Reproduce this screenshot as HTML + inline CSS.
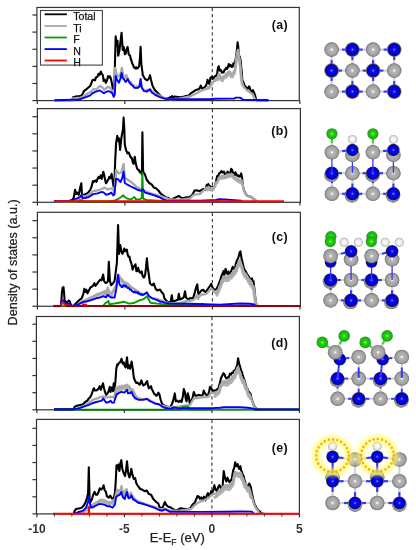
<!DOCTYPE html><html><head><meta charset="utf-8"><title>Density of states</title><style>html,body{margin:0;padding:0;background:#fff;}svg{display:block;}text{font-family:"Liberation Sans",Arial,sans-serif;}</style></head><body>
<svg width="416" height="550" viewBox="0 0 416 550">
<defs>
<radialGradient id="gTi" cx="0.5" cy="0.5" r="0.5"><stop offset="0" stop-color="#ffffff"/><stop offset="0.1" stop-color="#eeeeee"/><stop offset="0.22" stop-color="#b8b8b8"/><stop offset="0.75" stop-color="#a2a2a2"/><stop offset="0.9" stop-color="#8a8a8a"/><stop offset="1" stop-color="#5c5c5c"/></radialGradient>
<radialGradient id="gN" cx="0.5" cy="0.5" r="0.5"><stop offset="0" stop-color="#b0b0ff"/><stop offset="0.1" stop-color="#5050ff"/><stop offset="0.25" stop-color="#0c0ce8"/><stop offset="0.8" stop-color="#0000cc"/><stop offset="0.91" stop-color="#18186e"/><stop offset="1" stop-color="#5a5a40"/></radialGradient>
<radialGradient id="gF" cx="0.5" cy="0.5" r="0.5"><stop offset="0" stop-color="#f0ff80"/><stop offset="0.15" stop-color="#60e020"/><stop offset="0.35" stop-color="#20d010"/><stop offset="0.8" stop-color="#10b810"/><stop offset="1" stop-color="#408030"/></radialGradient>
<radialGradient id="gH" cx="0.5" cy="0.5" r="0.5"><stop offset="0" stop-color="#ffffff"/><stop offset="0.5" stop-color="#f0f0f0"/><stop offset="0.85" stop-color="#d0d0d0"/><stop offset="1" stop-color="#9a9a9a"/></radialGradient>
<filter id="blur2" x="-50%" y="-50%" width="200%" height="200%"><feGaussianBlur stdDeviation="2.2"/></filter><filter id="blur1" x="-50%" y="-50%" width="200%" height="200%"><feGaussianBlur stdDeviation="1.4"/></filter>
</defs>
<rect x="0" y="0" width="416" height="550" fill="#fff"/>
<rect x="36.9" y="7.45" width="262.4" height="93.15" fill="none" stroke="#333333" stroke-width="1.2"/>
<line x1="212.3" y1="7.95" x2="212.3" y2="100.6" stroke="#333" stroke-width="1.1" stroke-dasharray="3.2,2.9"/>
<polyline points="54.0,100.2 72.5,100.2 73.0,97.2 75.8,96.6 79.4,96.1 81.6,95.5 83.0,93.3 83.8,91.1 85.9,89.7 88.1,87.8 90.2,86.0 91.4,83.2 92.4,80.3 93.8,79.6 95.0,80.3 96.0,77.4 97.5,76.7 98.5,73.8 99.6,74.8 100.8,71.6 101.8,73.8 102.8,75.2 103.7,81.0 104.7,79.6 105.8,82.9 107.1,80.3 108.0,76.0 109.0,77.4 110.0,76.3 110.9,78.8 111.9,83.2 112.9,89.7 113.8,93.3 114.3,87.5 114.8,69.3 115.7,36.4 116.7,45.4 117.5,40.9 118.2,55.8 119.3,51.3 120.4,42.4 121.6,32.7 122.7,49.9 123.7,46.9 124.9,54.3 125.7,53.3 126.4,49.9 127.6,46.9 128.7,54.3 130.1,55.8 130.8,59.0 131.6,61.0 132.3,63.7 133.1,64.8 133.8,67.3 134.6,67.8 135.4,68.6 136.1,67.1 136.9,68.5 138.0,68.0 139.1,66.3 139.9,58.8 140.6,46.9 141.3,63.3 142.8,75.2 145.1,79.0 147.3,80.4 149.1,78.2 150.0,75.2 151.0,79.7 152.5,85.7 154.8,90.1 157.8,93.1 160.7,96.1 163.7,97.9 166.7,98.6 168.0,98.4 170.2,97.3 172.2,96.1 173.2,97.9 174.7,96.4 176.9,96.9 179.9,97.3 182.9,96.9 185.9,96.1 188.9,95.4 191.1,93.1 193.4,91.6 195.6,90.1 197.8,89.4 199.3,88.7 200.8,85.7 202.0,88.7 203.8,87.9 206.0,85.7 206.8,83.5 207.5,79.7 208.6,82.7 209.5,84.2 210.5,77.5 211.2,78.3 212.0,76.7 212.8,79.0 213.6,79.2 214.3,76.7 215.7,76.0 216.4,75.4 217.2,73.0 218.0,67.8 218.7,66.3 219.8,70.7 221.0,70.0 221.8,72.6 222.5,72.2 223.5,72.5 224.5,70.0 225.2,69.7 226.0,67.8 226.8,68.9 227.5,68.5 228.7,64.0 229.7,66.3 230.7,64.8 231.9,67.0 232.7,66.5 233.4,63.3 234.6,64.8 235.7,58.8 236.7,52.1 237.6,42.4 238.2,46.1 238.7,55.1 239.7,56.6 240.6,60.3 241.6,70.7 242.4,80.4 243.6,82.7 244.6,85.7 246.1,87.2 247.6,89.0 249.1,86.4 250.0,88.5 251.3,93.1 252.8,90.1 254.0,92.4 255.1,95.4 255.8,98.4 256.6,100.2 268.0,100.2" fill="none" stroke="#000000" stroke-width="2.1" stroke-linejoin="round"/>
<polyline points="217.2,81.2 217.9,79.4 218.7,75.9 219.4,78.4 220.2,76.9 220.9,80.0 221.7,80.4 222.6,81.0 223.6,77.8 224.5,78.2 225.2,78.0 226.0,75.3 226.8,76.7 227.5,74.4 228.2,75.4 229.0,73.7 229.8,75.5 230.5,74.5 231.2,77.1 232.0,76.7 232.8,77.0 233.7,73.7 234.5,73.7 235.7,67.0 236.7,58.0 237.9,52.1 238.7,57.6 239.4,60.7 240.4,68.7 241.2,78.7 242.3,85.7" fill="none" stroke="#b2b2b2" stroke-width="2.6" stroke-linejoin="round"/>
<polyline points="54.0,100.2 72.5,100.2 72.9,98.3 80.9,97.6 83.8,96.2 88.1,93.3 91.0,91.8 93.8,88.9 96.0,89.7 98.2,87.5 100.3,86.0 102.5,87.5 103.9,89.7 106.1,88.2 108.3,86.8 110.4,88.2 112.6,91.1 114.0,93.3 114.5,88.7 115.2,67.8 116.0,71.6 116.7,73.7 117.5,76.0 118.2,76.7 119.3,75.7 120.4,73.7 121.2,71.8 121.9,67.8 122.7,72.5 123.4,75.2 124.2,77.7 124.9,78.2 125.7,77.5 126.4,75.2 127.2,77.7 127.9,78.2 128.7,80.8 129.4,81.2 130.2,82.9 130.9,82.0 131.7,84.6 132.4,84.2 133.2,85.7 133.9,85.2 134.7,87.1 135.4,87.2 136.2,88.0 136.9,86.1 137.7,87.9 138.4,87.2 139.5,84.4 140.6,79.7 142.1,87.9 145.0,90.5 150.0,89.0 152.0,91.5 155.0,93.5 160.0,96.0 165.0,98.5 170.0,99.3 180.0,98.5 190.0,96.5 194.9,93.9 200.8,90.9 206.8,88.7 207.6,88.9 208.3,87.0 209.1,88.3 209.8,86.4 210.6,86.2 211.3,83.3 212.1,84.1 212.8,81.9 213.7,81.9 214.6,79.5 215.4,80.9 216.3,78.3 217.2,79.0 217.9,77.0 218.7,73.7 219.4,75.7 220.2,75.2 220.9,78.1 221.7,78.2 222.6,78.0 223.6,76.2 224.5,76.0 225.2,76.0 226.0,73.9 226.8,74.9 227.5,72.4 228.2,73.0 229.0,71.5 229.8,73.2 230.5,72.4 231.2,75.0 232.0,74.5 232.8,74.2 233.7,71.5 234.5,71.5 235.7,64.8 236.7,55.8 237.9,49.9 238.7,54.9 239.4,58.5 240.4,66.5 241.2,76.5 242.3,83.5 243.9,87.2 246.9,90.2 249.9,92.2 252.8,94.6 254.6,98.5 255.8,100.2" fill="none" stroke="#a8a8a8" stroke-width="2.3" stroke-linejoin="round"/>
<polyline points="54.4,100.2 72.2,99.8 79.0,99.5 82.3,98.3 86.6,96.9 90.2,95.4 92.4,93.3 95.3,91.8 97.5,91.1 99.6,90.4 101.8,91.8 103.9,93.3 106.1,91.8 108.3,91.1 110.0,91.6 112.2,93.1 113.7,96.9 114.8,94.6 115.7,76.0 116.7,79.0 117.8,81.2 119.0,82.7 120.1,79.7 121.6,73.0 122.7,78.2 124.2,79.7 125.7,81.9 127.6,79.0 128.7,81.2 130.1,83.4 132.4,85.7 134.6,87.9 137.6,87.9 139.6,86.4 140.6,79.0 141.6,87.2 143.6,90.9 146.6,91.6 149.1,90.1 150.0,89.4 151.8,92.4 154.8,94.6 159.3,96.9 163.7,98.4 167.0,99.2 175.0,99.3 210.0,99.2 215.0,98.8 234.0,98.6 236.0,97.6 240.0,97.6 243.0,99.6 250.0,100.0 268.6,100.2" fill="none" stroke="#0000ff" stroke-width="1.9" stroke-linejoin="round"/>
<line x1="32.4" y1="100.60" x2="36.9" y2="100.60" stroke="#333333" stroke-width="1.2"/>
<line x1="32.4" y1="83.48" x2="36.9" y2="83.48" stroke="#333333" stroke-width="1.2"/>
<line x1="32.4" y1="66.36" x2="36.9" y2="66.36" stroke="#333333" stroke-width="1.2"/>
<line x1="32.4" y1="49.24" x2="36.9" y2="49.24" stroke="#333333" stroke-width="1.2"/>
<line x1="32.4" y1="32.12" x2="36.9" y2="32.12" stroke="#333333" stroke-width="1.2"/>
<line x1="32.4" y1="15.00" x2="36.9" y2="15.00" stroke="#333333" stroke-width="1.2"/>
<line x1="37.3" y1="100.6" x2="37.3" y2="103.9" stroke="#333333" stroke-width="1.2"/>
<line x1="124.8" y1="100.6" x2="124.8" y2="103.9" stroke="#333333" stroke-width="1.2"/>
<line x1="212.3" y1="100.6" x2="212.3" y2="103.9" stroke="#333333" stroke-width="1.2"/>
<line x1="299.8" y1="100.6" x2="299.8" y2="103.9" stroke="#333333" stroke-width="1.2"/>
<text x="279.8" y="28.8" font-size="12.4" letter-spacing="0.35" font-weight="bold" text-anchor="middle" fill="#111">(a)</text>
<rect x="37.4" y="108.6" width="263.0" height="93.70" fill="none" stroke="#333333" stroke-width="1.2"/>
<line x1="212.4" y1="109.1" x2="212.4" y2="202.3" stroke="#333" stroke-width="1.1" stroke-dasharray="3.2,2.9"/>
<polyline points="54.0,201.5 69.5,201.5 70.1,200.6 72.3,199.9 73.7,197.7 75.1,189.8 76.2,194.1 77.3,192.6 78.8,194.8 80.2,187.6 81.3,183.3 81.9,193.4 82.8,197.0 83.8,194.8 86.0,194.1 88.1,192.6 90.3,189.8 91.7,186.2 92.9,181.1 93.9,181.8 95.3,180.4 96.4,181.8 97.5,178.9 98.7,176.8 99.7,178.2 100.7,175.3 101.8,178.9 103.3,171.7 104.4,176.1 105.9,183.3 106.9,181.8 108.3,179.7 109.3,176.8 110.5,178.2 111.6,173.9 112.6,180.4 113.6,186.5 114.4,184.0 115.2,160.3 116.1,142.9 117.3,135.9 118.4,141.1 119.1,138.5 120.1,149.9 121.3,138.5 122.2,133.3 123.0,129.0 123.6,117.6 124.3,128.9 124.8,144.6 126.0,149.9 127.4,153.4 128.8,152.5 130.1,156.0 130.9,157.9 131.8,157.7 132.7,162.0 133.5,163.8 134.8,156.8 135.8,163.8 137.0,168.2 137.9,169.8 138.8,169.9 139.7,172.1 140.5,171.7 141.9,174.3 142.4,132.4 143.1,171.7 144.9,174.3 146.6,179.5 149.2,183.0 151.9,184.7 153.6,187.4 155.5,188.0 158.0,190.0 160.6,193.5 164.1,196.1 166.4,197.5 168.0,197.7 170.8,199.9 173.0,198.8 175.8,197.4 178.7,196.0 181.0,197.7 183.8,198.0 186.6,197.4 189.5,197.0 191.7,195.5 193.1,193.4 194.6,190.5 196.7,190.2 199.6,191.2 201.8,189.8 203.9,189.0 205.4,189.8 206.8,184.7 207.6,186.2 208.3,184.0 209.4,187.0 210.4,186.2 211.5,188.1 212.6,186.9 213.7,187.6 214.8,185.9 216.2,180.4 217.2,176.1 218.1,176.4 219.1,173.2 220.2,173.0 221.3,171.0 222.7,172.4 223.8,171.5 224.7,174.0 225.5,173.5 226.6,173.5 227.7,171.5 228.6,174.0 229.5,173.0 230.3,173.3 231.1,168.9 231.9,169.5 232.9,172.4 233.8,173.4 234.6,175.4 235.5,172.2 236.3,174.3 237.3,175.8 238.3,175.3 239.2,176.7 240.2,176.3 241.2,173.4 242.1,178.2 242.7,184.9 243.5,188.8 245.0,192.6 246.9,195.5 248.8,196.2 250.8,196.8 252.7,198.4 254.6,199.5 256.5,201.3 258.0,201.5" fill="none" stroke="#000000" stroke-width="2.1" stroke-linejoin="round"/>
<polyline points="206.8,188.9 207.6,190.5 208.5,188.6 209.3,190.1 210.1,188.3 210.9,190.6 211.8,189.4 212.6,190.3 213.5,190.0 214.3,186.6 215.2,187.3 216.0,183.8 216.9,183.1 217.9,182.8 218.8,178.9 219.8,178.1 220.7,179.1 221.5,176.6 222.4,179.0 223.3,176.4 224.1,178.8 225.0,177.6 225.8,178.0 226.6,175.8 227.4,177.9 228.2,175.8 229.1,177.1 229.9,174.8 230.7,176.9 231.5,175.6 232.4,177.7 233.2,176.0 234.1,179.4 235.0,178.8 235.8,180.6 236.7,179.1 237.5,182.0 238.4,180.9 239.2,182.4 240.0,183.4 240.7,180.8 241.5,181.3 242.7,186.2 243.5,190.1" fill="none" stroke="#b2b2b2" stroke-width="1.8" stroke-linejoin="round"/>
<polyline points="54.0,201.5 76.0,201.3 77.3,197.7 81.6,195.5 84.5,196.8 88.8,194.8 93.2,191.2 97.5,190.5 101.8,189.0 104.7,187.6 107.5,189.5 111.2,188.3 113.4,189.8 114.4,193.5 115.5,178.9 116.1,169.9 118.7,173.4 121.3,172.5 123.6,163.8 124.8,177.8 127.4,179.5 131.0,182.0 134.4,184.7 136.0,186.5 140.0,189.0 150.0,193.0 160.0,196.0 165.0,197.5 170.0,199.5 180.0,199.8 190.0,198.5 193.8,194.8 200.0,193.8 206.8,187.6 207.6,188.4 208.5,186.8 209.3,189.4 210.1,187.9 210.9,189.7 211.8,187.8 212.6,189.0 213.5,188.5 214.3,185.6 215.2,185.8 216.0,182.5 216.9,181.8 217.9,181.2 218.8,177.6 219.8,176.8 220.7,177.7 221.5,175.6 222.4,177.3 223.3,175.5 224.1,177.6 225.0,176.3 225.8,177.2 226.6,174.7 227.4,176.1 228.2,174.4 229.1,176.1 229.9,174.1 230.7,175.1 231.5,174.3 232.4,176.1 233.2,175.0 234.1,177.9 235.0,177.5 235.8,178.9 236.7,178.4 237.5,180.6 238.4,179.3 239.2,181.1 240.0,181.7 240.7,179.8 241.5,180.0 242.7,184.9 243.5,188.8 245.0,192.6 246.9,195.5 248.8,196.2 250.8,196.8 252.7,198.4 254.6,199.5 256.5,201.3 258.0,201.5" fill="none" stroke="#a8a8a8" stroke-width="2.3" stroke-linejoin="round"/>
<polyline points="54.0,201.6 110.0,201.3 115.2,200.4 118.7,198.7 121.3,197.0 123.1,195.2 124.8,197.0 127.4,198.7 130.9,199.6 134.4,197.0 135.8,199.1 139.6,199.6 141.7,198.0 142.4,172.5 143.1,198.7 146.6,200.0 153.6,200.5 169.0,201.3" fill="none" stroke="#00a000" stroke-width="1.9" stroke-linejoin="round"/>
<polyline points="54.0,201.3 72.0,201.0 74.4,199.1 78.0,198.4 80.2,197.0 81.6,194.8 82.5,198.4 85.0,198.0 88.8,197.0 93.2,194.1 97.5,193.4 101.8,191.9 103.8,192.6 106.2,194.8 109.0,194.0 111.2,192.6 113.4,195.5 114.4,194.3 116.1,178.6 118.4,179.5 120.5,182.1 122.2,177.8 123.6,171.7 124.8,183.0 127.4,184.7 130.9,186.5 134.4,188.2 137.9,190.0 141.4,190.9 143.0,189.3 144.9,192.6 148.4,193.5 153.6,195.2 158.8,197.0 164.1,199.6 167.6,200.8 175.0,200.6 200.0,200.6 216.0,200.0 219.0,199.3 225.0,199.5 241.0,200.6 242.0,201.3" fill="none" stroke="#0000ff" stroke-width="1.9" stroke-linejoin="round"/>
<polyline points="53.8,201.3 78.5,201.3 79.5,200.2 82.0,200.2 83.2,201.3 284.0,201.3" fill="none" stroke="#ff0000" stroke-width="1.9" stroke-linejoin="round"/>
<line x1="32.4" y1="202.30" x2="37.4" y2="202.30" stroke="#333333" stroke-width="1.2"/>
<line x1="32.4" y1="185.18" x2="37.4" y2="185.18" stroke="#333333" stroke-width="1.2"/>
<line x1="32.4" y1="168.06" x2="37.4" y2="168.06" stroke="#333333" stroke-width="1.2"/>
<line x1="32.4" y1="150.94" x2="37.4" y2="150.94" stroke="#333333" stroke-width="1.2"/>
<line x1="32.4" y1="133.82" x2="37.4" y2="133.82" stroke="#333333" stroke-width="1.2"/>
<line x1="32.4" y1="116.70" x2="37.4" y2="116.70" stroke="#333333" stroke-width="1.2"/>
<line x1="37.4" y1="202.3" x2="37.4" y2="205.6" stroke="#333333" stroke-width="1.2"/>
<line x1="124.9" y1="202.3" x2="124.9" y2="205.6" stroke="#333333" stroke-width="1.2"/>
<line x1="212.4" y1="202.3" x2="212.4" y2="205.6" stroke="#333333" stroke-width="1.2"/>
<line x1="299.9" y1="202.3" x2="299.9" y2="205.6" stroke="#333333" stroke-width="1.2"/>
<text x="279.8" y="134.8" font-size="12.4" letter-spacing="0.35" font-weight="bold" text-anchor="middle" fill="#111">(b)</text>
<rect x="37.4" y="212.3" width="263.0" height="93.95" fill="none" stroke="#333333" stroke-width="1.2"/>
<line x1="212.4" y1="212.8" x2="212.4" y2="306.25" stroke="#333" stroke-width="1.1" stroke-dasharray="3.2,2.9"/>
<polyline points="53.5,306.0 61.0,306.0 61.5,300.0 61.8,293.3 62.7,287.5 63.5,287.2 64.0,292.0 64.6,300.5 65.9,301.9 67.5,302.0 68.8,300.5 69.8,301.5 70.9,305.5 73.0,305.8 75.2,304.1 77.4,301.9 79.6,299.8 81.7,298.3 83.5,293.3 84.3,288.9 85.3,291.8 86.3,289.7 87.5,293.3 88.9,290.4 90.4,287.5 91.8,286.8 93.3,285.3 94.4,283.2 95.4,286.0 96.4,284.6 97.6,283.2 99.0,281.0 100.5,279.6 101.6,280.3 103.1,274.5 104.1,281.0 105.5,283.0 107.0,282.5 108.0,281.0 108.8,261.7 109.9,280.9 111.1,285.3 112.9,283.5 114.6,280.9 115.8,271.3 116.9,262.6 118.1,225.1 119.0,253.9 120.3,245.1 121.6,252.1 122.5,253.9 123.3,252.3 124.2,248.6 125.6,251.2 126.8,249.5 127.7,254.7 128.6,256.7 129.4,256.5 130.3,260.8 131.2,262.6 132.6,269.6 133.8,266.1 134.7,266.0 135.5,264.3 136.4,271.3 137.2,271.0 138.1,267.8 139.5,272.2 140.6,272.9 141.6,271.3 142.5,275.4 143.4,277.4 144.2,277.4 145.1,274.8 146.0,267.7 146.9,258.2 147.7,267.8 148.6,273.0 150.0,283.5 152.1,285.3 153.8,283.5 155.6,288.7 157.3,290.5 160.0,289.6 161.7,292.2 163.4,294.0 164.3,298.1 166.5,301.0 168.7,302.4 170.8,301.7 171.8,295.2 172.7,301.7 174.4,301.0 176.6,300.3 178.0,299.5 178.8,293.8 179.9,299.5 181.6,298.8 183.8,297.4 185.0,291.2 186.0,297.4 187.4,298.8 188.8,299.3 190.3,297.9 191.7,298.4 193.2,297.9 194.6,293.1 195.6,289.2 196.5,286.3 197.3,284.4 198.0,292.1 198.5,294.0 199.4,293.1 200.4,291.6 201.8,290.2 203.3,289.7 204.2,291.2 205.7,292.1 207.1,290.2 208.6,287.8 209.5,286.8 210.5,284.9 211.2,283.9 211.9,285.9 212.9,288.3 213.8,289.2 215.3,289.7 216.7,288.8 218.2,285.4 219.6,282.0 220.8,278.2 221.5,275.8 222.5,273.8 223.5,271.0 224.2,275.5 225.6,268.7 226.9,273.5 227.7,274.0 228.5,271.6 229.2,274.2 230.0,274.5 231.3,270.7 232.7,266.8 233.4,268.4 234.2,268.7 235.0,267.6 235.8,263.9 237.1,260.1 238.5,257.2 239.6,252.4 240.4,251.4 241.5,258.2 242.9,263.9 243.8,267.8 244.6,270.3 245.4,270.7 246.7,273.5 248.1,275.5 249.2,277.4 250.6,279.3 251.9,278.3 252.7,281.0 253.5,281.2 254.4,288.9 255.4,298.5 256.3,304.3 257.3,306.0 260.0,306.0" fill="none" stroke="#000000" stroke-width="2.1" stroke-linejoin="round"/>
<polyline points="215.8,295.7 216.8,295.2 217.7,293.3 218.6,291.6 219.6,288.5 220.6,286.9 221.5,283.2 222.5,282.0 223.5,279.3 224.2,280.2 225.0,278.8 225.8,280.8 226.5,280.1 227.3,280.4 228.1,278.4 228.8,280.2 229.6,277.8 230.4,278.1 231.2,278.0 231.9,276.0 232.7,276.5 233.4,274.3 234.2,274.2 235.0,274.0 235.8,270.3 236.5,271.0 237.3,267.4 238.1,266.5 239.1,265.9 240.0,262.7 240.9,266.5 241.9,268.4 242.9,272.4 243.8,274.2 244.6,276.5 245.4,275.7 246.1,278.4 246.9,277.7 247.7,280.0 248.5,281.8 249.2,281.7 250.0,284.7 250.7,283.5 251.5,285.8 252.5,288.0 253.5,288.6 254.4,295.4 255.8,305.0" fill="none" stroke="#b2b2b2" stroke-width="3.0" stroke-linejoin="round"/>
<polyline points="81.7,303.3 82.5,304.3 83.4,301.8 84.2,302.6 85.0,300.2 85.8,301.9 86.7,300.2 87.5,300.4 88.3,301.1 89.2,298.7 90.0,300.5 90.8,298.0 91.6,299.8 92.5,297.2 93.3,297.6 94.2,298.2 95.0,295.4 95.9,297.4 96.7,294.5 97.6,295.4 98.5,296.3 99.3,294.2 100.2,295.8 101.0,293.1 101.9,293.9 102.9,294.3 103.8,292.2 104.8,292.5 105.6,295.4 106.7,293.4 107.7,288.9 108.5,291.4 109.3,293.9 110.2,293.1 111.0,295.9 111.9,295.5 112.8,291.3 113.6,292.1 114.5,289.4" fill="none" stroke="#b2b2b2" stroke-width="2.2" stroke-linejoin="round"/>
<polyline points="116.3,287.0 117.2,282.9 118.1,276.8 119.0,279.2 119.8,277.8 120.7,280.3 121.6,282.0 122.5,280.8 123.3,284.1 124.2,283.8 125.1,285.3 126.0,284.0 126.8,285.7 127.7,285.5 128.6,287.3 129.4,286.1 130.3,288.9 131.2,289.0" fill="none" stroke="#b2b2b2" stroke-width="2.4" stroke-linejoin="round"/>
<polyline points="53.5,306.0 74.0,306.0 78.0,304.5 81.7,301.9 87.5,299.0 93.3,296.2 97.6,294.0 101.9,292.5 104.8,291.1 105.6,294.0 107.7,287.5 108.5,290.0 111.0,294.5 114.5,288.0 116.3,285.0 118.1,274.8 120.7,278.3 124.2,281.8 127.7,283.5 131.2,287.0 136.4,290.5 141.6,294.0 146.9,294.0 150.4,297.5 157.3,299.2 165.0,302.0 172.0,303.5 180.0,303.0 186.9,300.8 190.0,300.8 193.7,299.8 195.6,297.9 197.0,295.0 198.0,298.8 199.4,296.4 201.8,294.5 204.2,294.5 206.2,294.0 208.6,291.2 210.5,289.2 211.9,288.8 213.8,291.6 215.8,293.1 217.7,290.7 218.6,289.4 219.6,285.9 220.6,284.5 221.5,280.6 222.5,279.8 223.5,276.7 224.2,278.1 225.0,276.5 225.8,278.3 226.5,277.5 227.3,278.0 228.1,276.0 228.8,277.5 229.6,275.1 230.4,275.5 231.2,276.0 231.9,273.1 232.7,274.1 233.4,271.3 234.2,271.6 235.0,271.2 235.8,268.0 236.5,268.1 237.3,264.8 238.1,263.9 239.1,262.8 240.0,260.1 240.9,263.5 241.9,265.8 242.9,269.7 243.8,271.6 244.6,273.4 245.4,273.3 246.1,276.0 246.9,275.4 247.7,277.4 248.5,279.5 249.2,278.8 250.0,281.9 250.7,280.8 251.5,283.2 252.5,285.9 253.5,286.0 254.4,292.8 255.8,302.4 257.3,306.0 260.0,306.0" fill="none" stroke="#a8a8a8" stroke-width="2.3" stroke-linejoin="round"/>
<polyline points="53.5,306.1 103.0,306.0 105.0,303.6 108.5,301.0 109.2,304.5 113.7,303.6 119.0,302.7 124.2,301.8 129.4,303.6 134.6,302.7 139.9,300.1 143.4,299.3 146.9,296.6 148.6,299.3 150.4,302.7 157.3,303.6 165.0,304.4 175.0,304.7 183.0,304.0 185.0,303.5 190.0,304.5 200.0,304.2 203.0,304.0 205.0,305.5 210.0,306.0" fill="none" stroke="#00a000" stroke-width="1.9" stroke-linejoin="round"/>
<polyline points="53.5,306.0 60.8,306.0 61.3,301.5 63.5,300.4 64.6,303.5 68.0,304.0 69.5,303.8 69.9,303.0 70.5,304.0 71.5,306.0 74.0,306.0 75.2,305.2 78.8,304.1 83.2,301.9 87.5,301.2 91.8,299.8 96.2,298.3 99.8,297.6 103.4,296.2 106.0,297.5 107.7,294.7 109.0,296.0 111.0,297.5 114.6,297.5 116.3,288.7 118.1,274.8 119.3,283.5 120.1,285.5 120.8,285.2 121.6,287.0 122.5,287.0 123.3,285.3 124.2,285.3 125.1,286.6 125.9,285.6 126.8,287.0 127.7,288.1 128.5,287.7 129.4,288.7 130.3,289.9 131.2,289.7 132.0,291.4 132.9,291.4 133.8,292.4 134.7,291.4 135.5,292.7 136.4,292.2 137.3,293.1 138.2,292.3 139.0,294.1 139.9,294.0 140.8,294.7 141.7,294.1 142.5,295.0 143.4,294.8 146.9,292.2 148.6,295.7 152.1,298.3 157.3,300.1 160.0,301.7 162.6,301.8 165.0,302.9 170.0,303.5 190.0,303.8 220.0,304.6 240.0,303.5 250.0,303.8 254.4,304.5 255.5,306.0" fill="none" stroke="#0000ff" stroke-width="1.9" stroke-linejoin="round"/>
<polyline points="53.5,306.1 61.2,306.1 61.6,303.2 63.1,302.1 64.0,303.6 64.6,304.3 65.0,305.2 69.0,305.2 70.0,305.9 82.5,305.9 83.5,304.6 86.0,304.6 87.0,305.9 300.0,306.1" fill="none" stroke="#ff0000" stroke-width="1.9" stroke-linejoin="round"/>
<line x1="53.5" y1="306.10" x2="60.8" y2="306.10" stroke="#8a0000" stroke-width="1.9"/>
<line x1="65.6" y1="306.10" x2="300.4" y2="306.10" stroke="#8a0000" stroke-width="1.9"/>
<line x1="32.4" y1="306.25" x2="37.4" y2="306.25" stroke="#333333" stroke-width="1.2"/>
<line x1="32.4" y1="289.13" x2="37.4" y2="289.13" stroke="#333333" stroke-width="1.2"/>
<line x1="32.4" y1="272.01" x2="37.4" y2="272.01" stroke="#333333" stroke-width="1.2"/>
<line x1="32.4" y1="254.89" x2="37.4" y2="254.89" stroke="#333333" stroke-width="1.2"/>
<line x1="32.4" y1="237.77" x2="37.4" y2="237.77" stroke="#333333" stroke-width="1.2"/>
<line x1="32.4" y1="220.65" x2="37.4" y2="220.65" stroke="#333333" stroke-width="1.2"/>
<line x1="37.4" y1="306.25" x2="37.4" y2="309.6" stroke="#333333" stroke-width="1.2"/>
<line x1="124.9" y1="306.25" x2="124.9" y2="309.6" stroke="#333333" stroke-width="1.2"/>
<line x1="212.4" y1="306.25" x2="212.4" y2="309.6" stroke="#333333" stroke-width="1.2"/>
<line x1="299.9" y1="306.25" x2="299.9" y2="309.6" stroke="#333333" stroke-width="1.2"/>
<text x="279.8" y="240.6" font-size="12.4" letter-spacing="0.35" font-weight="bold" text-anchor="middle" fill="#111">(c)</text>
<rect x="36.4" y="316.5" width="263.0" height="93.30" fill="none" stroke="#333333" stroke-width="1.2"/>
<line x1="211.9" y1="317.0" x2="211.9" y2="409.8" stroke="#333" stroke-width="1.1" stroke-dasharray="3.2,2.9"/>
<polyline points="54.0,409.3 74.0,409.3 74.4,407.1 75.9,406.1 80.2,404.9 83.1,404.2 85.2,402.0 87.4,400.6 88.8,398.4 90.3,397.0 91.7,394.1 92.9,390.5 93.9,388.3 94.9,390.5 96.1,390.5 97.5,389.8 98.7,388.3 99.7,386.2 100.7,389.8 101.8,386.9 103.0,383.3 104.0,388.3 105.0,391.9 106.2,394.8 107.6,393.4 109.0,389.8 109.8,386.9 110.5,391.9 111.6,387.6 112.9,391.2 113.7,383.3 114.5,390.5 115.5,380.4 116.3,368.8 117.2,364.5 118.0,364.9 118.7,363.1 120.1,362.4 121.5,358.8 122.7,363.8 123.7,362.4 124.4,365.2 125.6,367.4 127.0,357.3 128.0,368.1 129.0,365.2 130.2,368.8 131.6,361.6 132.8,368.8 133.8,377.5 135.2,381.1 136.3,383.0 137.4,382.5 138.8,384.0 139.6,384.7 140.3,383.3 141.4,380.4 142.5,384.0 143.4,385.4 144.3,384.7 145.2,384.5 146.1,382.5 147.2,381.1 148.2,386.2 148.9,388.3 149.7,387.6 151.1,386.2 151.8,389.2 152.6,390.5 154.0,393.4 155.4,394.8 156.2,395.8 156.9,395.5 158.3,392.6 159.3,394.1 160.5,399.1 161.9,403.5 164.1,405.6 167.0,406.5 170.0,407.3 171.5,405.0 172.9,401.4 174.0,397.0 174.8,393.4 175.8,401.4 177.3,400.6 178.7,402.1 180.1,400.6 181.6,402.1 183.0,395.6 183.8,389.1 185.0,392.7 185.9,399.9 186.6,401.4 187.8,393.4 188.8,397.0 189.8,403.5 191.0,400.6 192.4,398.5 193.8,392.0 195.3,395.6 197.0,395.6 198.9,394.9 201.1,395.6 202.8,394.9 203.7,390.6 204.7,392.7 206.1,394.9 207.6,396.3 209.0,392.0 210.0,386.9 211.2,388.4 212.6,390.6 214.8,390.6 216.2,389.8 218.4,388.4 219.8,383.3 221.0,378.3 222.0,376.1 223.4,373.2 224.5,374.3 225.5,377.2 226.5,378.5 227.8,377.5 228.9,376.8 230.0,373.7 230.9,374.7 231.9,372.7 232.9,372.9 233.8,370.8 234.8,370.5 235.8,368.9 237.1,365.0 238.1,358.3 239.0,363.1 240.4,367.9 241.2,370.7 241.9,371.8 242.7,375.4 243.5,377.5 244.8,381.4 246.2,386.2 246.9,388.6 247.7,389.1 248.4,391.5 249.2,392.0 250.6,393.9 251.5,398.7 253.5,404.5 255.4,407.9 257.0,409.3 260.0,409.3" fill="none" stroke="#000000" stroke-width="2.1" stroke-linejoin="round"/>
<polyline points="116.3,389.8 117.2,389.8 118.2,390.9 119.1,388.2 120.1,389.1 121.1,390.1 122.0,387.3 123.0,388.4 124.0,389.2 124.9,387.3 125.9,388.4 127.3,386.9 128.3,389.4 129.2,388.0 130.2,390.5 131.2,392.3 132.1,391.3 133.1,392.7 134.1,395.5 135.0,395.2 136.0,398.5" fill="none" stroke="#b2b2b2" stroke-width="2.8" stroke-linejoin="round"/>
<polyline points="214.1,395.8 215.0,396.5 215.8,393.7 216.7,395.3 217.5,392.7 218.4,393.7 219.4,392.0 220.3,387.7 221.3,386.4 222.7,383.8 223.5,384.6 224.2,383.0 225.0,385.0 225.7,383.4 226.5,384.7 227.3,385.3 228.1,382.4 228.8,384.0 229.6,381.2 230.4,381.9 231.2,382.5 231.9,379.7 232.7,380.6 233.4,377.4 234.2,378.0 235.0,377.5 235.8,373.6 236.5,373.7 237.3,369.8 238.1,369.4 239.1,372.4 240.0,374.2 240.9,378.2 241.9,379.9 242.9,383.1 243.8,383.1 244.8,385.7 245.8,389.1 246.7,390.0 247.7,393.4 248.7,396.3 249.6,396.4 250.6,399.2" fill="none" stroke="#b2b2b2" stroke-width="3.0" stroke-linejoin="round"/>
<polyline points="54.0,409.3 75.0,409.3 78.0,408.3 81.6,407.1 86.0,404.9 88.8,402.7 91.7,400.6 94.6,399.1 97.5,398.4 100.4,397.0 103.3,396.3 106.2,397.7 109.0,397.0 112.0,397.0 114.1,397.7 115.0,393.4 116.3,387.6 117.2,387.6 118.2,388.2 119.1,386.4 120.1,386.9 121.1,387.8 122.0,385.6 123.0,386.2 124.0,387.1 124.9,385.3 125.9,386.2 127.3,384.7 128.3,386.7 129.2,386.1 130.2,388.3 131.2,390.3 132.1,389.2 133.1,390.5 136.0,396.3 138.8,398.4 144.6,399.1 147.5,399.1 150.4,400.6 153.3,402.0 156.0,403.5 160.0,405.0 165.0,406.3 170.0,407.3 180.0,406.5 190.0,405.0 193.8,398.5 198.9,397.8 205.4,397.0 208.3,397.0 211.2,392.7 214.1,393.4 218.4,391.3 219.4,389.8 220.3,385.7 221.3,384.0 222.7,381.4 223.5,382.6 224.2,380.8 225.0,382.5 225.7,381.5 226.5,382.3 227.3,382.7 228.1,380.0 228.8,381.8 229.6,378.9 230.4,379.5 231.2,379.3 231.9,377.1 232.7,378.1 233.4,375.6 234.2,375.6 235.0,374.6 235.8,370.9 236.5,371.5 237.3,367.9 238.1,367.0 239.1,370.3 240.0,371.8 240.9,375.7 241.9,377.5 242.9,380.5 243.8,380.2 244.8,383.3 245.8,386.6 246.7,387.2 247.7,391.0 248.7,394.0 249.6,394.1 250.6,396.8 253.5,405.4 255.4,408.5 256.5,409.3 260.0,409.3" fill="none" stroke="#a8a8a8" stroke-width="2.3" stroke-linejoin="round"/>
<polyline points="54.0,409.6 74.4,409.6 181.0,409.5 183.0,406.6 188.0,406.6 190.0,409.6 300.0,409.6" fill="none" stroke="#00a000" stroke-width="1.9" stroke-linejoin="round"/>
<polyline points="54.0,409.3 74.0,409.3 77.0,408.8 80.2,407.8 84.5,406.4 88.8,404.9 91.7,403.5 96.1,402.0 99.0,401.3 101.8,400.6 103.3,398.4 104.7,400.6 106.2,402.7 109.0,402.0 110.5,400.6 112.0,402.7 114.0,402.5 115.5,397.7 117.0,393.4 117.6,394.1 119.4,392.6 121.5,391.9 124.4,392.6 127.0,389.8 128.0,393.4 130.2,393.0 131.6,391.9 133.1,395.5 135.2,398.4 138.8,399.9 143.1,399.9 146.8,398.8 149.0,400.6 151.8,402.0 154.7,403.5 159.0,404.2 161.9,406.4 164.8,407.8 170.0,408.9 174.0,407.5 178.0,408.1 200.0,408.3 212.0,408.1 220.0,407.8 224.0,407.3 240.0,407.3 248.0,407.8 253.5,408.6 255.0,409.4 300.0,409.4" fill="none" stroke="#0000ff" stroke-width="1.9" stroke-linejoin="round"/>
<line x1="54" y1="409.50" x2="74.2" y2="409.50" stroke="#14147a" stroke-width="1.9"/>
<line x1="74.6" y1="409.80" x2="211.5" y2="409.80" stroke="#0a6a0a" stroke-width="1.3"/>
<line x1="254.5" y1="409.50" x2="299.4" y2="409.50" stroke="#14147a" stroke-width="1.9"/>
<line x1="32.4" y1="409.80" x2="36.4" y2="409.80" stroke="#333333" stroke-width="1.2"/>
<line x1="32.4" y1="392.68" x2="36.4" y2="392.68" stroke="#333333" stroke-width="1.2"/>
<line x1="32.4" y1="375.56" x2="36.4" y2="375.56" stroke="#333333" stroke-width="1.2"/>
<line x1="32.4" y1="358.44" x2="36.4" y2="358.44" stroke="#333333" stroke-width="1.2"/>
<line x1="32.4" y1="341.32" x2="36.4" y2="341.32" stroke="#333333" stroke-width="1.2"/>
<line x1="32.4" y1="324.20" x2="36.4" y2="324.20" stroke="#333333" stroke-width="1.2"/>
<line x1="36.9" y1="409.8" x2="36.9" y2="413.1" stroke="#333333" stroke-width="1.2"/>
<line x1="124.4" y1="409.8" x2="124.4" y2="413.1" stroke="#333333" stroke-width="1.2"/>
<line x1="211.9" y1="409.8" x2="211.9" y2="413.1" stroke="#333333" stroke-width="1.2"/>
<line x1="299.4" y1="409.8" x2="299.4" y2="413.1" stroke="#333333" stroke-width="1.2"/>
<text x="279.8" y="346.5" font-size="12.4" letter-spacing="0.35" font-weight="bold" text-anchor="middle" fill="#111">(d)</text>
<rect x="36.5" y="419.4" width="262.9" height="94.50" fill="none" stroke="#333333" stroke-width="1.2"/>
<line x1="211.9" y1="419.9" x2="211.9" y2="513.9" stroke="#333" stroke-width="1.1" stroke-dasharray="3.2,2.9"/>
<polyline points="74.0,513.8 74.4,511.3 75.9,509.1 78.8,508.4 81.6,507.7 83.8,505.5 85.7,501.9 87.1,497.6 88.1,493.3 88.8,467.3 89.6,499.0 90.6,501.9 92.0,499.0 93.2,494.7 94.6,491.8 95.8,494.7 97.2,494.7 98.7,491.8 99.7,488.2 101.1,489.6 102.5,488.2 103.6,485.3 104.7,490.4 105.9,491.8 106.9,496.2 108.8,497.6 110.2,495.5 111.9,498.5 113.6,498.4 115.0,492.6 115.8,480.4 116.5,465.2 117.5,468.8 118.4,464.5 119.4,471.0 120.4,463.1 121.3,460.2 122.3,468.8 123.7,473.2 125.1,476.1 126.2,468.8 127.0,461.3 128.0,471.7 128.8,475.8 129.5,477.5 130.4,474.3 131.3,468.8 132.4,474.6 133.8,478.9 135.2,478.2 136.3,483.3 138.1,486.2 140.3,489.0 142.5,489.8 144.6,491.2 146.8,490.5 148.9,494.1 151.1,494.8 153.3,499.1 156.2,502.0 158.3,503.5 159.8,507.8 162.6,507.8 164.8,502.0 166.3,504.9 167.9,506.5 170.8,507.5 172.9,509.0 175.8,510.4 178.0,509.7 180.1,508.3 182.3,508.5 185.2,509.0 188.1,509.0 190.2,508.3 191.7,506.1 193.1,503.9 194.6,503.2 196.0,499.6 197.5,496.0 198.9,496.7 199.9,498.9 201.1,497.4 202.5,499.6 203.9,496.7 205.4,500.3 206.8,495.3 208.0,493.1 209.0,496.7 210.0,495.3 211.2,491.0 212.3,493.8 213.3,490.2 214.3,485.2 215.5,489.5 216.9,490.9 218.4,486.6 219.5,485.2 221.0,488.8 222.0,488.1 222.7,485.4 223.7,471.0 225.0,477.7 226.2,481.5 227.5,477.7 228.8,481.5 229.6,482.2 230.4,480.6 231.2,480.3 231.9,477.7 233.3,470.0 234.2,468.1 235.2,462.3 236.5,466.2 237.7,464.2 239.0,469.0 240.4,466.2 241.2,470.5 241.9,471.9 242.7,474.6 243.5,475.8 244.8,481.5 246.2,484.4 246.9,485.8 247.7,485.4 248.4,485.7 249.2,483.5 250.6,486.3 251.9,493.1 253.1,498.8 254.4,503.7 256.3,507.5 258.3,510.4 260.2,511.9 262.0,513.8 264.0,513.8" fill="none" stroke="#000000" stroke-width="2.1" stroke-linejoin="round"/>
<polyline points="91.7,507.1 92.7,507.7 93.6,504.6 94.6,505.0 95.6,505.7 96.5,502.7 97.5,503.5 98.5,503.6 99.4,501.0 100.4,501.4 101.4,502.7 102.3,500.1 103.3,501.4 104.3,502.9 105.2,501.6 106.2,502.8 107.1,504.2 108.1,502.3 109.0,504.2 110.0,504.6 110.9,502.9 111.9,503.5 112.9,503.9 113.8,500.6 114.8,500.6" fill="none" stroke="#b2b2b2" stroke-width="2.4" stroke-linejoin="round"/>
<polyline points="115.8,496.8 117.0,492.4 117.9,491.8 119.0,493.5 120.0,492.5 120.8,491.5 121.5,488.2 122.6,493.3 123.7,496.0 124.7,495.7 125.6,491.9 126.6,491.0 127.6,495.3 128.7,497.5 129.8,497.4 130.9,494.6" fill="none" stroke="#b2b2b2" stroke-width="2.6" stroke-linejoin="round"/>
<polyline points="214.0,496.1 215.0,497.5 216.0,496.6 216.9,496.3 217.7,493.9 218.6,493.6 219.4,494.3 220.2,492.3 221.0,492.6 222.0,492.3 223.0,489.6 223.8,490.0 224.6,488.0 225.4,488.8 226.2,487.2 226.9,489.5 227.7,487.6 228.5,488.9 229.3,489.7 230.0,486.4 230.8,488.1 231.5,485.4 232.3,486.1 233.3,483.5 234.2,477.0 235.2,474.5 236.2,475.7 237.1,474.4 238.1,476.4 239.1,476.8 240.0,475.1 241.0,475.5 241.9,479.4 242.9,480.0 243.8,484.1 244.8,487.1 245.7,486.4 246.7,488.9 247.7,491.1 248.6,490.2 249.6,491.8 250.6,496.6 251.5,498.6" fill="none" stroke="#b2b2b2" stroke-width="3.0" stroke-linejoin="round"/>
<polyline points="80.0,513.0 85.0,511.5 88.8,506.3 91.7,505.5 94.6,503.4 97.5,501.9 100.4,499.8 103.3,499.8 106.2,501.2 109.0,502.6 111.9,501.9 114.8,499.0 115.8,494.8 117.0,490.4 117.9,489.8 119.0,491.0 120.0,490.5 120.8,489.4 121.5,486.2 122.6,490.9 123.7,494.0 124.7,493.6 125.6,490.1 126.6,489.0 127.6,493.5 128.7,495.5 129.8,495.1 130.9,492.6 133.1,497.0 136.0,500.0 140.0,502.0 145.0,504.0 150.0,505.5 155.0,507.0 160.0,509.5 165.0,509.0 170.0,510.5 180.0,511.0 191.0,509.0 195.3,504.6 199.6,501.8 203.9,500.3 208.3,498.2 211.2,495.3 214.0,493.5 216.0,494.0 218.6,491.0 221.0,490.0 223.0,487.0 223.8,487.3 224.6,485.4 225.4,486.7 226.2,485.1 226.9,487.1 227.7,485.1 228.5,486.3 229.3,486.4 230.0,484.0 230.8,485.5 231.5,483.0 232.3,483.5 233.3,480.2 234.2,474.7 235.2,471.9 236.2,473.1 237.1,472.6 238.1,473.8 239.1,474.1 240.0,472.6 241.0,472.9 241.9,476.7 242.9,477.9 243.8,481.5 244.8,483.8 245.7,483.5 246.7,486.3 247.7,488.4 248.6,487.4 249.6,489.2 251.5,496.0 253.5,502.7 255.4,507.5 258.3,511.4 260.0,513.8 264.0,513.8" fill="none" stroke="#a8a8a8" stroke-width="2.3" stroke-linejoin="round"/>
<polyline points="74.0,513.8 78.8,512.0 83.1,510.6 86.0,507.7 88.1,501.9 88.8,496.2 89.6,501.9 91.0,507.7 93.5,506.8 96.1,505.5 98.9,504.1 101.8,504.1 104.7,504.8 107.6,506.3 110.0,506.3 112.6,507.7 113.8,506.0 115.0,504.2 116.1,497.0 117.9,495.5 119.8,494.8 121.3,491.9 122.8,497.0 124.7,499.1 127.0,491.9 128.5,498.4 130.2,497.7 131.3,495.5 133.0,499.1 135.2,500.6 138.1,502.7 141.7,503.5 146.1,504.9 150.4,506.3 154.7,507.8 159.0,510.0 162.4,510.7 165.5,509.2 167.2,510.4 170.0,511.8 200.0,511.9 225.0,511.7 240.0,511.5 252.0,511.6 253.2,513.2 254.0,513.8" fill="none" stroke="#0000ff" stroke-width="1.9" stroke-linejoin="round"/>
<polyline points="53.0,513.8 88.5,513.8 88.7,507.2 89.0,507.2 89.2,513.8 300.0,513.8" fill="none" stroke="#ff0000" stroke-width="1.9" stroke-linejoin="round"/>
<line x1="32.4" y1="513.90" x2="36.5" y2="513.90" stroke="#333333" stroke-width="1.2"/>
<line x1="32.4" y1="496.78" x2="36.5" y2="496.78" stroke="#333333" stroke-width="1.2"/>
<line x1="32.4" y1="479.66" x2="36.5" y2="479.66" stroke="#333333" stroke-width="1.2"/>
<line x1="32.4" y1="462.54" x2="36.5" y2="462.54" stroke="#333333" stroke-width="1.2"/>
<line x1="32.4" y1="445.42" x2="36.5" y2="445.42" stroke="#333333" stroke-width="1.2"/>
<line x1="32.4" y1="428.30" x2="36.5" y2="428.30" stroke="#333333" stroke-width="1.2"/>
<line x1="36.9" y1="513.9" x2="36.9" y2="517.2" stroke="#333333" stroke-width="1.2"/>
<line x1="124.4" y1="513.9" x2="124.4" y2="517.2" stroke="#333333" stroke-width="1.2"/>
<line x1="211.9" y1="513.9" x2="211.9" y2="517.2" stroke="#333333" stroke-width="1.2"/>
<line x1="299.4" y1="513.9" x2="299.4" y2="517.2" stroke="#333333" stroke-width="1.2"/>
<line x1="54.4" y1="513.9" x2="54.4" y2="516.5" stroke="#333333" stroke-width="1"/>
<line x1="71.9" y1="513.9" x2="71.9" y2="516.5" stroke="#333333" stroke-width="1"/>
<line x1="89.4" y1="513.9" x2="89.4" y2="516.5" stroke="#333333" stroke-width="1"/>
<line x1="106.9" y1="513.9" x2="106.9" y2="516.5" stroke="#333333" stroke-width="1"/>
<line x1="141.9" y1="513.9" x2="141.9" y2="516.5" stroke="#333333" stroke-width="1"/>
<line x1="159.4" y1="513.9" x2="159.4" y2="516.5" stroke="#333333" stroke-width="1"/>
<line x1="176.9" y1="513.9" x2="176.9" y2="516.5" stroke="#333333" stroke-width="1"/>
<line x1="194.4" y1="513.9" x2="194.4" y2="516.5" stroke="#333333" stroke-width="1"/>
<line x1="229.4" y1="513.9" x2="229.4" y2="516.5" stroke="#333333" stroke-width="1"/>
<line x1="246.9" y1="513.9" x2="246.9" y2="516.5" stroke="#333333" stroke-width="1"/>
<line x1="264.4" y1="513.9" x2="264.4" y2="516.5" stroke="#333333" stroke-width="1"/>
<line x1="281.9" y1="513.9" x2="281.9" y2="516.5" stroke="#333333" stroke-width="1"/>
<text x="279.8" y="452.3" font-size="12.4" letter-spacing="0.35" font-weight="bold" text-anchor="middle" fill="#111">(e)</text>
<rect x="40.5" y="10.5" width="61.9" height="54.6" fill="#fff" stroke="#444" stroke-width="1.1"/>
<line x1="44.6" y1="14.3" x2="66.9" y2="14.3" stroke="#000000" stroke-width="1.8"/>
<text x="73.2" y="19.9" font-size="10.6" fill="#111" stroke="#111" stroke-width="0.25">Total</text>
<line x1="44.6" y1="26.0" x2="66.9" y2="26.0" stroke="#a8a8a8" stroke-width="1.8"/>
<text x="73.2" y="31.6" font-size="10.6" fill="#111" stroke="#111" stroke-width="0.25">Ti</text>
<line x1="44.6" y1="37.5" x2="66.9" y2="37.5" stroke="#00a000" stroke-width="1.8"/>
<text x="73.2" y="43.1" font-size="10.6" fill="#111" stroke="#111" stroke-width="0.25">F</text>
<line x1="44.6" y1="49.1" x2="66.9" y2="49.1" stroke="#0000ff" stroke-width="1.8"/>
<text x="73.2" y="54.7" font-size="10.6" fill="#111" stroke="#111" stroke-width="0.25">N</text>
<line x1="44.6" y1="60.5" x2="66.9" y2="60.5" stroke="#ff0000" stroke-width="1.8"/>
<text x="73.2" y="66.1" font-size="10.6" fill="#111" stroke="#111" stroke-width="0.25">H</text>
<text x="36.9" y="532.8" font-size="12" font-weight="bold" text-anchor="middle" fill="#333">-10</text>
<text x="124.4" y="532.8" font-size="12" font-weight="bold" text-anchor="middle" fill="#333">-5</text>
<text x="211.9" y="532.8" font-size="12" font-weight="bold" text-anchor="middle" fill="#333">0</text>
<text x="299.4" y="532.8" font-size="12" font-weight="bold" text-anchor="middle" fill="#333">5</text>
<text x="177.2" y="542" font-size="13" text-anchor="middle" fill="#222" stroke="#222" stroke-width="0.25">E-E<tspan font-size="8.5" dy="2.6">F</tspan><tspan dy="-2.6"> (eV)</tspan></text>
<text transform="translate(17.4,262.4) rotate(-90)" font-size="12.6" text-anchor="middle" fill="#222" stroke="#222" stroke-width="0.25">Density of states (a.u.)</text>
<line x1="331.6" y1="49.6" x2="342.0" y2="49.6" stroke="#d2d2d2" stroke-width="2.2"/><line x1="342.0" y1="49.6" x2="352.4" y2="49.6" stroke="#3535ff" stroke-width="2.2"/><line x1="331.6" y1="49.6" x2="331.6" y2="60.1" stroke="#d2d2d2" stroke-width="2.2"/><line x1="331.6" y1="60.1" x2="331.6" y2="70.6" stroke="#3535ff" stroke-width="2.2"/><line x1="352.4" y1="49.6" x2="362.8" y2="49.6" stroke="#3535ff" stroke-width="2.2"/><line x1="362.8" y1="49.6" x2="373.1" y2="49.6" stroke="#d2d2d2" stroke-width="2.2"/><line x1="352.4" y1="49.6" x2="352.4" y2="60.1" stroke="#3535ff" stroke-width="2.2"/><line x1="352.4" y1="60.1" x2="352.4" y2="70.6" stroke="#d2d2d2" stroke-width="2.2"/><line x1="373.1" y1="49.6" x2="383.6" y2="49.6" stroke="#d2d2d2" stroke-width="2.2"/><line x1="383.6" y1="49.6" x2="394.2" y2="49.6" stroke="#3535ff" stroke-width="2.2"/><line x1="373.1" y1="49.6" x2="373.1" y2="60.1" stroke="#d2d2d2" stroke-width="2.2"/><line x1="373.1" y1="60.1" x2="373.1" y2="70.6" stroke="#3535ff" stroke-width="2.2"/><line x1="394.2" y1="49.6" x2="394.2" y2="60.1" stroke="#3535ff" stroke-width="2.2"/><line x1="394.2" y1="60.1" x2="394.2" y2="70.6" stroke="#d2d2d2" stroke-width="2.2"/><line x1="331.6" y1="70.6" x2="342.0" y2="70.6" stroke="#3535ff" stroke-width="2.2"/><line x1="342.0" y1="70.6" x2="352.4" y2="70.6" stroke="#d2d2d2" stroke-width="2.2"/><line x1="331.6" y1="70.6" x2="331.6" y2="81.1" stroke="#3535ff" stroke-width="2.2"/><line x1="331.6" y1="81.1" x2="331.6" y2="91.6" stroke="#d2d2d2" stroke-width="2.2"/><line x1="352.4" y1="70.6" x2="362.8" y2="70.6" stroke="#d2d2d2" stroke-width="2.2"/><line x1="362.8" y1="70.6" x2="373.1" y2="70.6" stroke="#3535ff" stroke-width="2.2"/><line x1="352.4" y1="70.6" x2="352.4" y2="81.1" stroke="#d2d2d2" stroke-width="2.2"/><line x1="352.4" y1="81.1" x2="352.4" y2="91.6" stroke="#3535ff" stroke-width="2.2"/><line x1="373.1" y1="70.6" x2="383.6" y2="70.6" stroke="#3535ff" stroke-width="2.2"/><line x1="383.6" y1="70.6" x2="394.2" y2="70.6" stroke="#d2d2d2" stroke-width="2.2"/><line x1="373.1" y1="70.6" x2="373.1" y2="81.1" stroke="#3535ff" stroke-width="2.2"/><line x1="373.1" y1="81.1" x2="373.1" y2="91.6" stroke="#d2d2d2" stroke-width="2.2"/><line x1="394.2" y1="70.6" x2="394.2" y2="81.1" stroke="#d2d2d2" stroke-width="2.2"/><line x1="394.2" y1="81.1" x2="394.2" y2="91.6" stroke="#3535ff" stroke-width="2.2"/><line x1="331.6" y1="91.6" x2="342.0" y2="91.6" stroke="#d2d2d2" stroke-width="2.2"/><line x1="342.0" y1="91.6" x2="352.4" y2="91.6" stroke="#3535ff" stroke-width="2.2"/><line x1="352.4" y1="91.6" x2="362.8" y2="91.6" stroke="#3535ff" stroke-width="2.2"/><line x1="362.8" y1="91.6" x2="373.1" y2="91.6" stroke="#d2d2d2" stroke-width="2.2"/><line x1="373.1" y1="91.6" x2="383.6" y2="91.6" stroke="#d2d2d2" stroke-width="2.2"/><line x1="383.6" y1="91.6" x2="394.2" y2="91.6" stroke="#3535ff" stroke-width="2.2"/><circle cx="331.6" cy="49.6" r="7.3" fill="url(#gTi)"/><circle cx="352.4" cy="49.6" r="7.3" fill="url(#gTi)"/><circle cx="352.4" cy="49.6" r="6.8" fill="url(#gN)"/><circle cx="373.1" cy="49.6" r="7.3" fill="url(#gTi)"/><circle cx="394.2" cy="49.6" r="7.3" fill="url(#gTi)"/><circle cx="394.2" cy="49.6" r="6.8" fill="url(#gN)"/><circle cx="331.6" cy="70.6" r="7.3" fill="url(#gTi)"/><circle cx="331.6" cy="70.6" r="6.8" fill="url(#gN)"/><circle cx="352.4" cy="70.6" r="7.3" fill="url(#gTi)"/><circle cx="373.1" cy="70.6" r="7.3" fill="url(#gTi)"/><circle cx="373.1" cy="70.6" r="6.8" fill="url(#gN)"/><circle cx="394.2" cy="70.6" r="7.3" fill="url(#gTi)"/><circle cx="331.6" cy="91.6" r="7.3" fill="url(#gTi)"/><circle cx="352.4" cy="91.6" r="7.3" fill="url(#gTi)"/><circle cx="352.4" cy="91.6" r="6.8" fill="url(#gN)"/><circle cx="373.1" cy="91.6" r="7.3" fill="url(#gTi)"/><circle cx="394.2" cy="91.6" r="7.3" fill="url(#gTi)"/><circle cx="394.2" cy="91.6" r="6.8" fill="url(#gN)"/>
<line x1="331.9" y1="173.2" x2="342.1" y2="173.2" stroke="#3535ff" stroke-width="2.2"/><line x1="342.1" y1="173.2" x2="352.4" y2="173.2" stroke="#d2d2d2" stroke-width="2.2"/><line x1="331.9" y1="173.2" x2="331.9" y2="183.5" stroke="#3535ff" stroke-width="2.2"/><line x1="331.9" y1="183.5" x2="331.9" y2="193.8" stroke="#d2d2d2" stroke-width="2.2"/><line x1="352.4" y1="173.2" x2="362.6" y2="173.2" stroke="#d2d2d2" stroke-width="2.2"/><line x1="362.6" y1="173.2" x2="372.9" y2="173.2" stroke="#3535ff" stroke-width="2.2"/><line x1="352.4" y1="173.2" x2="352.4" y2="183.5" stroke="#d2d2d2" stroke-width="2.2"/><line x1="352.4" y1="183.5" x2="352.4" y2="193.8" stroke="#3535ff" stroke-width="2.2"/><line x1="372.9" y1="173.2" x2="383.1" y2="173.2" stroke="#3535ff" stroke-width="2.2"/><line x1="383.1" y1="173.2" x2="393.4" y2="173.2" stroke="#d2d2d2" stroke-width="2.2"/><line x1="372.9" y1="173.2" x2="372.9" y2="183.5" stroke="#3535ff" stroke-width="2.2"/><line x1="372.9" y1="183.5" x2="372.9" y2="193.8" stroke="#d2d2d2" stroke-width="2.2"/><line x1="393.4" y1="173.2" x2="393.4" y2="183.5" stroke="#d2d2d2" stroke-width="2.2"/><line x1="393.4" y1="183.5" x2="393.4" y2="193.8" stroke="#3535ff" stroke-width="2.2"/><line x1="331.9" y1="193.8" x2="342.1" y2="193.8" stroke="#d2d2d2" stroke-width="2.2"/><line x1="342.1" y1="193.8" x2="352.4" y2="193.8" stroke="#3535ff" stroke-width="2.2"/><line x1="352.4" y1="193.8" x2="362.6" y2="193.8" stroke="#3535ff" stroke-width="2.2"/><line x1="362.6" y1="193.8" x2="372.9" y2="193.8" stroke="#d2d2d2" stroke-width="2.2"/><line x1="372.9" y1="193.8" x2="383.1" y2="193.8" stroke="#d2d2d2" stroke-width="2.2"/><line x1="383.1" y1="193.8" x2="393.4" y2="193.8" stroke="#3535ff" stroke-width="2.2"/><circle cx="331.5" cy="174.8" r="7.3" fill="url(#gTi)"/><circle cx="331.9" cy="173.2" r="6.8" fill="url(#gN)"/><circle cx="352.4" cy="173.2" r="7.3" fill="url(#gTi)"/><circle cx="372.5" cy="174.8" r="7.3" fill="url(#gTi)"/><circle cx="372.9" cy="173.2" r="6.8" fill="url(#gN)"/><circle cx="393.4" cy="173.2" r="7.3" fill="url(#gTi)"/><circle cx="331.9" cy="193.8" r="7.3" fill="url(#gTi)"/><circle cx="352.0" cy="195.4" r="7.3" fill="url(#gTi)"/><circle cx="352.4" cy="193.8" r="6.8" fill="url(#gN)"/><circle cx="372.9" cy="193.8" r="7.3" fill="url(#gTi)"/><circle cx="393.0" cy="195.4" r="7.3" fill="url(#gTi)"/><circle cx="393.4" cy="193.8" r="6.8" fill="url(#gN)"/><line x1="331.9" y1="152.3" x2="331.9" y2="162.8" stroke="#3535ff" stroke-width="1.3"/><line x1="331.9" y1="162.8" x2="331.9" y2="173.2" stroke="#3535ff" stroke-width="1.3"/><line x1="331.9" y1="152.3" x2="331.9" y2="143.1" stroke="#d2d2d2" stroke-width="2.2"/><line x1="331.9" y1="143.1" x2="331.9" y2="133.8" stroke="#40d040" stroke-width="2.2"/><line x1="331.9" y1="152.3" x2="342.1" y2="151.2" stroke="#d2d2d2" stroke-width="2.2"/><line x1="342.1" y1="151.2" x2="352.4" y2="150.0" stroke="#3535ff" stroke-width="2.2"/><line x1="352.4" y1="150.0" x2="352.4" y2="161.6" stroke="#3535ff" stroke-width="1.3"/><line x1="352.4" y1="161.6" x2="352.4" y2="173.2" stroke="#3535ff" stroke-width="1.3"/><line x1="372.9" y1="152.3" x2="372.9" y2="162.8" stroke="#3535ff" stroke-width="1.3"/><line x1="372.9" y1="162.8" x2="372.9" y2="173.2" stroke="#3535ff" stroke-width="1.3"/><line x1="372.9" y1="152.3" x2="372.9" y2="143.1" stroke="#d2d2d2" stroke-width="2.2"/><line x1="372.9" y1="143.1" x2="372.9" y2="133.8" stroke="#40d040" stroke-width="2.2"/><line x1="372.9" y1="152.3" x2="383.1" y2="151.2" stroke="#d2d2d2" stroke-width="2.2"/><line x1="383.1" y1="151.2" x2="393.4" y2="150.0" stroke="#3535ff" stroke-width="2.2"/><line x1="393.4" y1="150.0" x2="393.4" y2="161.6" stroke="#3535ff" stroke-width="1.3"/><line x1="393.4" y1="161.6" x2="393.4" y2="173.2" stroke="#3535ff" stroke-width="1.3"/><circle cx="331.9" cy="133.8" r="5.6" fill="url(#gF)"/><circle cx="331.9" cy="152.3" r="7.3" fill="url(#gTi)"/><circle cx="352.4" cy="154.9" r="7.3" fill="url(#gTi)"/><circle cx="352.4" cy="139.4" r="4.5" fill="url(#gH)"/><circle cx="352.4" cy="150.0" r="6.2" fill="url(#gN)"/><circle cx="372.9" cy="133.8" r="5.6" fill="url(#gF)"/><circle cx="372.9" cy="152.3" r="7.3" fill="url(#gTi)"/><circle cx="393.4" cy="154.9" r="7.3" fill="url(#gTi)"/><circle cx="393.4" cy="139.4" r="4.5" fill="url(#gH)"/><circle cx="393.4" cy="150.0" r="6.2" fill="url(#gN)"/>
<line x1="330.6" y1="280.0" x2="340.9" y2="280.0" stroke="#3535ff" stroke-width="2.2"/><line x1="340.9" y1="280.0" x2="351.1" y2="280.0" stroke="#d2d2d2" stroke-width="2.2"/><line x1="330.6" y1="280.0" x2="330.6" y2="290.2" stroke="#3535ff" stroke-width="2.2"/><line x1="330.6" y1="290.2" x2="330.6" y2="300.4" stroke="#d2d2d2" stroke-width="2.2"/><line x1="351.1" y1="280.0" x2="361.4" y2="280.0" stroke="#d2d2d2" stroke-width="2.2"/><line x1="361.4" y1="280.0" x2="371.6" y2="280.0" stroke="#3535ff" stroke-width="2.2"/><line x1="351.1" y1="280.0" x2="351.1" y2="290.2" stroke="#d2d2d2" stroke-width="2.2"/><line x1="351.1" y1="290.2" x2="351.1" y2="300.4" stroke="#3535ff" stroke-width="2.2"/><line x1="371.6" y1="280.0" x2="381.9" y2="280.0" stroke="#3535ff" stroke-width="2.2"/><line x1="381.9" y1="280.0" x2="392.1" y2="280.0" stroke="#d2d2d2" stroke-width="2.2"/><line x1="371.6" y1="280.0" x2="371.6" y2="290.2" stroke="#3535ff" stroke-width="2.2"/><line x1="371.6" y1="290.2" x2="371.6" y2="300.4" stroke="#d2d2d2" stroke-width="2.2"/><line x1="392.1" y1="280.0" x2="392.1" y2="290.2" stroke="#d2d2d2" stroke-width="2.2"/><line x1="392.1" y1="290.2" x2="392.1" y2="300.4" stroke="#3535ff" stroke-width="2.2"/><line x1="330.6" y1="300.4" x2="340.9" y2="300.4" stroke="#d2d2d2" stroke-width="2.2"/><line x1="340.9" y1="300.4" x2="351.1" y2="300.4" stroke="#3535ff" stroke-width="2.2"/><line x1="351.1" y1="300.4" x2="361.4" y2="300.4" stroke="#3535ff" stroke-width="2.2"/><line x1="361.4" y1="300.4" x2="371.6" y2="300.4" stroke="#d2d2d2" stroke-width="2.2"/><line x1="371.6" y1="300.4" x2="381.9" y2="300.4" stroke="#d2d2d2" stroke-width="2.2"/><line x1="381.9" y1="300.4" x2="392.1" y2="300.4" stroke="#3535ff" stroke-width="2.2"/><circle cx="330.0" cy="281.6" r="7.3" fill="url(#gTi)"/><circle cx="330.6" cy="280.0" r="6.8" fill="url(#gN)"/><circle cx="351.1" cy="280.0" r="7.3" fill="url(#gTi)"/><circle cx="371.0" cy="281.6" r="7.3" fill="url(#gTi)"/><circle cx="371.6" cy="280.0" r="6.8" fill="url(#gN)"/><circle cx="392.1" cy="280.0" r="7.3" fill="url(#gTi)"/><circle cx="330.6" cy="300.4" r="7.3" fill="url(#gTi)"/><circle cx="350.5" cy="302.0" r="7.3" fill="url(#gTi)"/><circle cx="351.1" cy="300.4" r="6.8" fill="url(#gN)"/><circle cx="371.6" cy="300.4" r="7.3" fill="url(#gTi)"/><circle cx="391.5" cy="302.0" r="7.3" fill="url(#gTi)"/><circle cx="392.1" cy="300.4" r="6.8" fill="url(#gN)"/><line x1="330.6" y1="256.0" x2="330.6" y2="268.0" stroke="#3535ff" stroke-width="1.3"/><line x1="330.6" y1="268.0" x2="330.6" y2="280.0" stroke="#3535ff" stroke-width="1.3"/><line x1="330.6" y1="256.0" x2="340.9" y2="253.7" stroke="#d2d2d2" stroke-width="2.2"/><line x1="340.9" y1="253.7" x2="351.1" y2="251.3" stroke="#3535ff" stroke-width="2.2"/><line x1="351.1" y1="251.3" x2="351.1" y2="265.6" stroke="#3535ff" stroke-width="1.3"/><line x1="351.1" y1="265.6" x2="351.1" y2="280.0" stroke="#3535ff" stroke-width="1.3"/><line x1="371.6" y1="256.0" x2="371.6" y2="268.0" stroke="#3535ff" stroke-width="1.3"/><line x1="371.6" y1="268.0" x2="371.6" y2="280.0" stroke="#3535ff" stroke-width="1.3"/><line x1="371.6" y1="256.0" x2="381.9" y2="253.7" stroke="#d2d2d2" stroke-width="2.2"/><line x1="381.9" y1="253.7" x2="392.1" y2="251.3" stroke="#3535ff" stroke-width="2.2"/><line x1="392.1" y1="251.3" x2="392.1" y2="265.6" stroke="#3535ff" stroke-width="1.3"/><line x1="392.1" y1="265.6" x2="392.1" y2="280.0" stroke="#3535ff" stroke-width="1.3"/><circle cx="330.6" cy="261.9" r="6.0" fill="url(#gN)"/><circle cx="330.9" cy="236.6" r="5.6" fill="url(#gF)"/><circle cx="330.3" cy="241.6" r="5.6" fill="url(#gF)"/><circle cx="330.6" cy="256.0" r="7.3" fill="url(#gTi)"/><circle cx="344.1" cy="242.3" r="4.5" fill="url(#gH)"/><circle cx="358.3" cy="242.3" r="4.5" fill="url(#gH)"/><circle cx="351.1" cy="259.3" r="7.3" fill="url(#gTi)"/><circle cx="351.1" cy="251.3" r="6.3" fill="url(#gN)"/><circle cx="371.6" cy="261.9" r="6.0" fill="url(#gN)"/><circle cx="371.9" cy="236.6" r="5.6" fill="url(#gF)"/><circle cx="371.3" cy="241.6" r="5.6" fill="url(#gF)"/><circle cx="371.6" cy="256.0" r="7.3" fill="url(#gTi)"/><circle cx="385.1" cy="242.3" r="4.5" fill="url(#gH)"/><circle cx="399.3" cy="242.3" r="4.5" fill="url(#gH)"/><circle cx="392.1" cy="259.3" r="7.3" fill="url(#gTi)"/><circle cx="392.1" cy="251.3" r="6.3" fill="url(#gN)"/>
<line x1="337.6" y1="378.6" x2="348.1" y2="378.6" stroke="#3535ff" stroke-width="2.0"/><line x1="348.1" y1="378.6" x2="358.7" y2="378.6" stroke="#d2d2d2" stroke-width="2.0"/><line x1="337.6" y1="378.6" x2="337.6" y2="388.7" stroke="#3535ff" stroke-width="2.0"/><line x1="337.6" y1="388.7" x2="337.6" y2="398.8" stroke="#d2d2d2" stroke-width="2.0"/><line x1="358.7" y1="378.6" x2="369.6" y2="378.6" stroke="#d2d2d2" stroke-width="2.0"/><line x1="369.6" y1="378.6" x2="380.5" y2="378.6" stroke="#3535ff" stroke-width="2.0"/><line x1="358.7" y1="378.6" x2="358.7" y2="388.7" stroke="#d2d2d2" stroke-width="2.0"/><line x1="358.7" y1="388.7" x2="358.7" y2="398.8" stroke="#3535ff" stroke-width="2.0"/><line x1="380.5" y1="378.6" x2="391.1" y2="378.6" stroke="#3535ff" stroke-width="2.0"/><line x1="391.1" y1="378.6" x2="401.8" y2="378.6" stroke="#d2d2d2" stroke-width="2.0"/><line x1="380.5" y1="378.6" x2="380.5" y2="388.7" stroke="#3535ff" stroke-width="2.0"/><line x1="380.5" y1="388.7" x2="380.5" y2="398.8" stroke="#d2d2d2" stroke-width="2.0"/><line x1="401.8" y1="378.6" x2="401.8" y2="388.7" stroke="#d2d2d2" stroke-width="2.0"/><line x1="401.8" y1="388.7" x2="401.8" y2="398.8" stroke="#3535ff" stroke-width="2.0"/><line x1="337.6" y1="398.8" x2="348.1" y2="398.8" stroke="#d2d2d2" stroke-width="2.0"/><line x1="348.1" y1="398.8" x2="358.7" y2="398.8" stroke="#3535ff" stroke-width="2.0"/><line x1="358.7" y1="398.8" x2="369.6" y2="398.8" stroke="#3535ff" stroke-width="2.0"/><line x1="369.6" y1="398.8" x2="380.5" y2="398.8" stroke="#d2d2d2" stroke-width="2.0"/><line x1="380.5" y1="398.8" x2="391.1" y2="398.8" stroke="#d2d2d2" stroke-width="2.0"/><line x1="391.1" y1="398.8" x2="401.8" y2="398.8" stroke="#3535ff" stroke-width="2.0"/><circle cx="337.2" cy="380.2" r="7.3" fill="url(#gTi)"/><circle cx="337.6" cy="378.6" r="6.8" fill="url(#gN)"/><circle cx="358.7" cy="378.6" r="7.3" fill="url(#gTi)"/><circle cx="380.1" cy="380.2" r="7.3" fill="url(#gTi)"/><circle cx="380.5" cy="378.6" r="6.8" fill="url(#gN)"/><circle cx="401.8" cy="378.6" r="7.3" fill="url(#gTi)"/><circle cx="337.6" cy="398.8" r="7.3" fill="url(#gTi)"/><circle cx="358.3" cy="400.4" r="7.3" fill="url(#gTi)"/><circle cx="358.7" cy="398.8" r="6.8" fill="url(#gN)"/><circle cx="380.5" cy="398.8" r="7.3" fill="url(#gTi)"/><circle cx="401.4" cy="400.4" r="7.3" fill="url(#gTi)"/><circle cx="401.8" cy="398.8" r="6.8" fill="url(#gN)"/><line x1="339.6" y1="359.0" x2="338.6" y2="368.4" stroke="#3535ff" stroke-width="2.0"/><line x1="338.6" y1="368.4" x2="337.6" y2="377.9" stroke="#3535ff" stroke-width="2.0"/><line x1="358.7" y1="357.0" x2="358.7" y2="367.4" stroke="#d2d2d2" stroke-width="2.0"/><line x1="358.7" y1="367.4" x2="358.7" y2="377.9" stroke="#3535ff" stroke-width="2.0"/><line x1="358.7" y1="357.0" x2="349.1" y2="358.0" stroke="#d2d2d2" stroke-width="2.0"/><line x1="349.1" y1="358.0" x2="339.6" y2="359.0" stroke="#3535ff" stroke-width="2.0"/><line x1="382.5" y1="359.0" x2="381.5" y2="368.4" stroke="#3535ff" stroke-width="2.0"/><line x1="381.5" y1="368.4" x2="380.5" y2="377.9" stroke="#3535ff" stroke-width="2.0"/><line x1="401.8" y1="357.0" x2="401.8" y2="367.4" stroke="#d2d2d2" stroke-width="2.0"/><line x1="401.8" y1="367.4" x2="401.8" y2="377.9" stroke="#3535ff" stroke-width="2.0"/><line x1="401.8" y1="357.0" x2="392.1" y2="358.0" stroke="#d2d2d2" stroke-width="2.0"/><line x1="392.1" y1="358.0" x2="382.5" y2="359.0" stroke="#3535ff" stroke-width="2.0"/><line x1="335.2" y1="352.3" x2="328.8" y2="347.4" stroke="#d2d2d2" stroke-width="2.2"/><line x1="328.8" y1="347.4" x2="322.3" y2="342.4" stroke="#40d040" stroke-width="2.2"/><line x1="335.2" y1="352.3" x2="339.7" y2="344.1" stroke="#d2d2d2" stroke-width="2.2"/><line x1="339.7" y1="344.1" x2="344.2" y2="335.9" stroke="#40d040" stroke-width="2.2"/><line x1="378.1" y1="352.3" x2="371.6" y2="347.4" stroke="#d2d2d2" stroke-width="2.2"/><line x1="371.6" y1="347.4" x2="365.2" y2="342.4" stroke="#40d040" stroke-width="2.2"/><line x1="378.1" y1="352.3" x2="382.6" y2="344.1" stroke="#d2d2d2" stroke-width="2.2"/><line x1="382.6" y1="344.1" x2="387.1" y2="335.9" stroke="#40d040" stroke-width="2.2"/><circle cx="339.8" cy="359.2" r="6.3" fill="url(#gN)"/><circle cx="322.3" cy="342.4" r="5.8" fill="url(#gF)"/><circle cx="344.2" cy="335.9" r="5.8" fill="url(#gF)"/><circle cx="335.2" cy="352.3" r="7.4" fill="url(#gTi)"/><circle cx="358.7" cy="357.0" r="7.3" fill="url(#gTi)"/><circle cx="382.7" cy="359.2" r="6.3" fill="url(#gN)"/><circle cx="365.2" cy="342.4" r="5.8" fill="url(#gF)"/><circle cx="387.1" cy="335.9" r="5.8" fill="url(#gF)"/><circle cx="378.1" cy="352.3" r="7.4" fill="url(#gTi)"/><circle cx="401.8" cy="357.0" r="7.3" fill="url(#gTi)"/>
<line x1="332.6" y1="456.8" x2="343.8" y2="458.1" stroke="#3535ff" stroke-width="2.2"/><line x1="343.8" y1="458.1" x2="355.0" y2="459.5" stroke="#d2d2d2" stroke-width="2.2"/><line x1="332.6" y1="456.8" x2="332.6" y2="469.0" stroke="#3535ff" stroke-width="2.2"/><line x1="332.6" y1="469.0" x2="332.6" y2="481.2" stroke="#3535ff" stroke-width="2.2"/><line x1="355.0" y1="459.5" x2="366.1" y2="458.1" stroke="#d2d2d2" stroke-width="2.2"/><line x1="366.1" y1="458.1" x2="377.2" y2="456.8" stroke="#3535ff" stroke-width="2.2"/><line x1="355.0" y1="459.5" x2="355.0" y2="470.4" stroke="#d2d2d2" stroke-width="2.2"/><line x1="355.0" y1="470.4" x2="355.0" y2="481.2" stroke="#d2d2d2" stroke-width="2.2"/><line x1="377.2" y1="456.8" x2="388.3" y2="458.1" stroke="#3535ff" stroke-width="2.2"/><line x1="388.3" y1="458.1" x2="399.4" y2="459.5" stroke="#d2d2d2" stroke-width="2.2"/><line x1="377.2" y1="456.8" x2="377.2" y2="469.0" stroke="#3535ff" stroke-width="2.2"/><line x1="377.2" y1="469.0" x2="377.2" y2="481.2" stroke="#3535ff" stroke-width="2.2"/><line x1="399.4" y1="459.5" x2="399.4" y2="470.4" stroke="#d2d2d2" stroke-width="2.2"/><line x1="399.4" y1="470.4" x2="399.4" y2="481.2" stroke="#d2d2d2" stroke-width="2.2"/><line x1="332.6" y1="481.2" x2="343.8" y2="481.2" stroke="#3535ff" stroke-width="2.2"/><line x1="343.8" y1="481.2" x2="355.0" y2="481.2" stroke="#d2d2d2" stroke-width="2.2"/><line x1="332.6" y1="481.2" x2="332.6" y2="492.1" stroke="#3535ff" stroke-width="2.2"/><line x1="332.6" y1="492.1" x2="332.6" y2="503.0" stroke="#d2d2d2" stroke-width="2.2"/><line x1="355.0" y1="481.2" x2="366.1" y2="481.2" stroke="#d2d2d2" stroke-width="2.2"/><line x1="366.1" y1="481.2" x2="377.2" y2="481.2" stroke="#3535ff" stroke-width="2.2"/><line x1="355.0" y1="481.2" x2="355.0" y2="492.1" stroke="#d2d2d2" stroke-width="2.2"/><line x1="355.0" y1="492.1" x2="355.0" y2="503.0" stroke="#3535ff" stroke-width="2.2"/><line x1="377.2" y1="481.2" x2="388.3" y2="481.2" stroke="#3535ff" stroke-width="2.2"/><line x1="388.3" y1="481.2" x2="399.4" y2="481.2" stroke="#d2d2d2" stroke-width="2.2"/><line x1="377.2" y1="481.2" x2="377.2" y2="492.1" stroke="#3535ff" stroke-width="2.2"/><line x1="377.2" y1="492.1" x2="377.2" y2="503.0" stroke="#d2d2d2" stroke-width="2.2"/><line x1="399.4" y1="481.2" x2="399.4" y2="492.1" stroke="#d2d2d2" stroke-width="2.2"/><line x1="399.4" y1="492.1" x2="399.4" y2="503.0" stroke="#3535ff" stroke-width="2.2"/><line x1="332.6" y1="503.0" x2="343.8" y2="503.0" stroke="#d2d2d2" stroke-width="2.2"/><line x1="343.8" y1="503.0" x2="355.0" y2="503.0" stroke="#3535ff" stroke-width="2.2"/><line x1="355.0" y1="503.0" x2="366.1" y2="503.0" stroke="#3535ff" stroke-width="2.2"/><line x1="366.1" y1="503.0" x2="377.2" y2="503.0" stroke="#d2d2d2" stroke-width="2.2"/><line x1="377.2" y1="503.0" x2="388.3" y2="503.0" stroke="#d2d2d2" stroke-width="2.2"/><line x1="388.3" y1="503.0" x2="399.4" y2="503.0" stroke="#3535ff" stroke-width="2.2"/><line x1="332.6" y1="446.2" x2="332.6" y2="451.5" stroke="#e0e0e0" stroke-width="2.2"/><line x1="332.6" y1="451.5" x2="332.6" y2="456.8" stroke="#3535ff" stroke-width="2.2"/><line x1="377.2" y1="446.2" x2="377.2" y2="451.5" stroke="#e0e0e0" stroke-width="2.2"/><line x1="377.2" y1="451.5" x2="377.2" y2="456.8" stroke="#3535ff" stroke-width="2.2"/><circle cx="332.6" cy="446.2" r="4.6" fill="url(#gH)"/><circle cx="332.6" cy="456.8" r="6.4" fill="url(#gN)"/><circle cx="355.0" cy="459.5" r="7.3" fill="url(#gTi)"/><circle cx="377.2" cy="446.2" r="4.6" fill="url(#gH)"/><circle cx="377.2" cy="456.8" r="6.4" fill="url(#gN)"/><circle cx="399.4" cy="459.5" r="7.3" fill="url(#gTi)"/><circle cx="332.6" cy="477.2" r="7.3" fill="url(#gTi)"/><circle cx="332.6" cy="481.2" r="6.5" fill="url(#gN)"/><circle cx="355.0" cy="481.2" r="7.3" fill="url(#gTi)"/><circle cx="377.2" cy="477.2" r="7.3" fill="url(#gTi)"/><circle cx="377.2" cy="481.2" r="6.5" fill="url(#gN)"/><circle cx="399.4" cy="481.2" r="7.3" fill="url(#gTi)"/><circle cx="332.6" cy="503.0" r="7.3" fill="url(#gTi)"/><circle cx="355.0" cy="504.6" r="7.3" fill="url(#gTi)"/><circle cx="355.0" cy="503.0" r="6.5" fill="url(#gN)"/><circle cx="377.2" cy="503.0" r="7.3" fill="url(#gTi)"/><circle cx="399.4" cy="504.6" r="7.3" fill="url(#gTi)"/><circle cx="399.4" cy="503.0" r="6.5" fill="url(#gN)"/><circle cx="332.5" cy="455.7" r="16.5" fill="none" stroke="#ffff60" stroke-width="10" opacity="0.5" filter="url(#blur1)"/><circle cx="332.5" cy="455.7" r="16.4" fill="none" stroke="#fff070" stroke-width="5" opacity="0.3"/><circle cx="332.5" cy="455.7" r="16.3" fill="none" stroke="#ffaa00" stroke-width="2.5" stroke-dasharray="0.01,4.257" stroke-linecap="round"/><circle cx="377.4" cy="455.3" r="16.5" fill="none" stroke="#ffff60" stroke-width="10" opacity="0.5" filter="url(#blur1)"/><circle cx="377.4" cy="455.3" r="16.4" fill="none" stroke="#fff070" stroke-width="5" opacity="0.3"/><circle cx="377.4" cy="455.3" r="16.3" fill="none" stroke="#ffaa00" stroke-width="2.5" stroke-dasharray="0.01,4.257" stroke-linecap="round"/>
</svg></body></html>
